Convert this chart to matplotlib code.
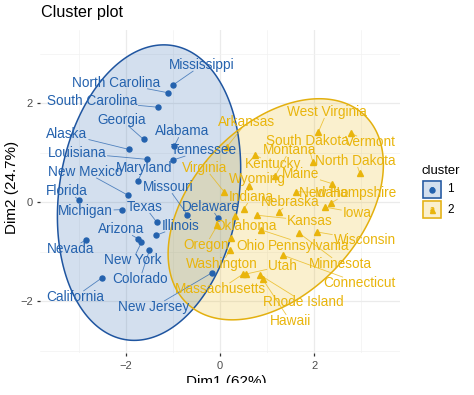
import numpy as np
import matplotlib
matplotlib.use("Agg")
import matplotlib.pyplot as plt
from matplotlib.patches import Rectangle, Polygon

# ---------------- data ----------------
states = ["Alabama", "Alaska", "Arizona", "Arkansas", "California", "Colorado",
          "Connecticut", "Delaware", "Florida", "Georgia", "Hawaii", "Idaho",
          "Illinois", "Indiana", "Iowa", "Kansas", "Kentucky", "Louisiana",
          "Maine", "Maryland", "Massachusetts", "Michigan", "Minnesota",
          "Mississippi", "Missouri", "Montana", "Nebraska", "Nevada",
          "New Hampshire", "New Jersey", "New Mexico", "New York",
          "North Carolina", "North Dakota", "Ohio", "Oklahoma", "Oregon",
          "Pennsylvania", "Rhode Island", "South Carolina", "South Dakota",
          "Tennessee", "Texas", "Utah", "Vermont", "Virginia", "Washington",
          "West Virginia", "Wisconsin", "Wyoming"]
dim1 = [-0.976, -1.931, -1.745, 0.140, -2.499, -1.499, 1.345, -0.047, -2.983,
        -1.623, 0.903, 1.623, -1.365, 0.500, 2.231, 0.789, 0.743, -1.549,
        2.372, -1.746, 0.481, -2.087, 1.676, -0.987, -0.690, 1.174, 1.253,
        -2.846, 2.360, -0.180, -1.960, -1.666, -1.112, 2.962, 0.224, 0.309,
        -0.059, 0.880, 0.855, -1.307, 1.968, -0.989, -1.342, 0.545, 2.773,
        0.095, 0.215, 2.087, 2.059, 0.623]
dim2 = [1.122, 1.062, -0.738, 1.109, -1.527, -0.978, -1.078, -0.322, 0.039,
        1.266, -1.555, 0.209, -0.675, -0.150, -0.103, -0.267, 0.949, 0.862,
        0.373, 0.423, -1.460, -0.154, -0.626, 2.370, -0.261, 0.532, -0.193,
        -0.767, -0.019, -1.435, 0.141, -0.814, 2.209, 0.593, -0.734, -0.285,
        -0.471, -0.566, -1.477, 1.914, 0.815, 0.851, -0.408, -1.456, 1.388,
        0.198, -0.960, 1.414, -0.605, 0.318]
cluster = [1, 1, 1, 2, 1, 1, 2, 1, 1, 1, 2, 2, 1, 2, 2, 2, 2, 1, 2, 1, 2, 1, 2,
           1, 1, 2, 2, 1, 2, 1, 1, 1, 1, 2, 2, 2, 2, 2, 2, 1, 2, 1, 1, 2, 2, 2,
           2, 2, 2, 2]
cluster_names = ["1", "2"]

# label placement (text centres, as repelled in the reference)
label_pos = {
    "Mississippi": (-0.38, 2.77), "North Carolina": (-2.21, 2.41),
    "South Carolina": (-2.72, 2.04), "Georgia": (-2.09, 1.66),
    "Alabama": (-0.81, 1.43), "Alaska": (-3.25, 1.37),
    "Louisiana": (-3.04, 0.99), "Tennessee": (-0.34, 1.05),
    "New Mexico": (-2.86, 0.61), "Maryland": (-1.61, 0.69),
    "Florida": (-3.25, 0.22), "Missouri": (-1.11, 0.30),
    "Michigan": (-2.86, -0.18), "Texas": (-1.59, -0.10),
    "Delaware": (-0.20, -0.10), "Illinois": (-0.83, -0.48),
    "Arizona": (-2.09, -0.55), "Nevada": (-3.18, -0.95),
    "New York": (-1.85, -1.17), "Colorado": (-1.70, -1.56),
    "California": (-3.08, -1.92), "New Jersey": (-1.40, -2.12),
    "West Virginia": (2.27, 1.82), "Arkansas": (0.57, 1.62),
    "South Dakota": (1.85, 1.23), "Vermont": (3.20, 1.21),
    "Montana": (1.48, 1.05), "Kentucky": (1.12, 0.77),
    "North Dakota": (2.88, 0.83), "Virginia": (-0.32, 0.69),
    "Wyoming": (0.79, 0.46), "Maine": (1.72, 0.57),
    "New Hampshire": (2.71, 0.18), "Idaho": (2.38, 0.18),
    "Indiana": (0.67, 0.10), "Nebraska": (1.49, 0.00),
    "Iowa": (2.91, -0.22), "Kansas": (1.91, -0.38),
    "Oklahoma": (0.55, -0.48), "Wisconsin": (3.07, -0.77),
    "Oregon": (-0.30, -0.87), "Ohio": (0.65, -0.88),
    "Pennsylvania": (1.89, -0.88), "Washington": (0.04, -1.25),
    "Utah": (1.33, -1.29), "Minnesota": (2.55, -1.25),
    "Massachusetts": (0.01, -1.76), "Connecticut": (2.96, -1.64),
    "Rhode Island": (1.77, -2.02), "Hawaii": (1.49, -2.40),
}

# ---------------- style ----------------
colors = {1: "#2462AE", 2: "#E9B50C"}
edge_colors = {1: "#1F55A0", 2: "#E3B00F"}
markers = {1: "o", 2: "^"}
FONT = "Liberation Sans"
W, H = 474, 395

plt.rcParams["font.family"] = [FONT, "DejaVu Sans"]

fig = plt.figure(figsize=(W / 100, H / 100), dpi=100)
fig.patch.set_facecolor("white")
ax = fig.add_axes([40 / W, 1 - 353 / H, 360 / W, 323 / H])
ax.set_xlim(-3.82, 3.82)
ax.set_ylim(-3.05, 3.475)
for s in ax.spines.values():
    s.set_visible(False)

ax.set_xticks([-2, 0, 2])
ax.set_yticks([-2, 0, 2])
ax.set_xticks([-3, -1, 1, 3], minor=True)
ax.set_yticks([-3, -1, 1, 3], minor=True)
ax.grid(True, which="major", color="#EBEBEB", lw=0.9)
ax.grid(True, which="minor", color="#F2F2F2", lw=0.5)
ax.set_axisbelow(True)
ax.tick_params(which="major", length=2.5, width=0.9, color="#333333",
               labelsize=8, labelcolor="#4D4D4D")
ax.tick_params(axis="x", which="major", pad=3.5)
ax.tick_params(axis="y", which="major", pad=2.5)
ax.tick_params(which="minor", length=0)

x = np.array(dim1)
y = np.array(dim2)
cl = np.array(cluster)


def norm_ellipse(xs, ys, level=0.95, seg=240):
    data = np.column_stack([xs, ys])
    n = len(xs)
    center = data.mean(axis=0)
    cov = np.cov(data.T)
    R = np.linalg.cholesky(cov).T
    d = n - 1
    fq = (d / 2.0) * ((1 - level) ** (-2.0 / d) - 1)
    radius = np.sqrt(2 * fq)
    t = np.linspace(0, 2 * np.pi, seg)
    circ = np.column_stack([np.cos(t), np.sin(t)])
    return center + radius * (circ @ R)


for k in (1, 2):
    m = cl == k
    e = norm_ellipse(x[m], y[m])
    ax.add_patch(Polygon(e, closed=True, facecolor=colors[k], alpha=0.2,
                         edgecolor="none", zorder=1))
    ax.add_patch(Polygon(e, closed=True, facecolor="none",
                         edgecolor=edge_colors[k], lw=1.1, zorder=1.5))

for k in (1, 2):
    m = cl == k
    ax.plot(x[m], y[m], ls="none", marker=markers[k], color=colors[k],
            ms=3.6 if k == 1 else 4.2, zorder=3)

texts = []
for name, px, py, k in zip(states, x, y, cl):
    lx, ly = label_pos[name]
    t = ax.text(lx, ly, name, ha="center", va="center", fontsize=9.8,
                color=colors[k], zorder=4, family=FONT)
    texts.append((t, px, py, k))

fig.canvas.draw()
renderer = fig.canvas.get_renderer()
inv = ax.transData.inverted()
for t, px, py, k in texts:
    bb = t.get_window_extent(renderer)
    x0, x1, y0, y1 = bb.x0 - 1, bb.x1 + 1, bb.y0 + 1, bb.y1 - 1
    P = ax.transData.transform((px, py))
    C = np.array([(x0 + x1) / 2, (y0 + y1) / 2])
    if x0 <= P[0] <= x1 and y0 <= P[1] <= y1:
        continue
    dvec = P - C
    hw, hh = (x1 - x0) / 2, (y1 - y0) / 2
    tt = min(hw / abs(dvec[0]) if dvec[0] != 0 else np.inf,
             hh / abs(dvec[1]) if dvec[1] != 0 else np.inf)
    E = C + tt * dvec
    if np.hypot(*(P - E)) < 5:
        continue
    a = inv.transform(E)
    ax.plot([a[0], px], [a[1], py], color=colors[k], lw=0.6, alpha=0.75,
            zorder=2, solid_capstyle="butt")

# titles
fig.text(41 / W, 1 - 13 / H, "Cluster plot", fontsize=11.6, ha="left",
         va="center", color="black")
fig.text(12 / W, 1 - 187 / H, "Dim2 (24.7%)", fontsize=11, rotation=90,
         ha="center", va="center", color="black")
fig.text(226 / W, 1 - 375 / H, "Dim1 (62%)", fontsize=11, ha="center",
         va="top", color="black")

# legend
fig.text(422 / W, 1 - 171 / H, "cluster", fontsize=9.4, ha="left",
         va="center")
for i, k in enumerate((1, 2)):
    top = 180 + i * 20
    fig.patches.append(Rectangle((422 / W, 1 - (top + 19) / H), 20 / W,
                                 19 / H, transform=fig.transFigure,
                                 facecolor=colors[k], alpha=0.2,
                                 edgecolor="none"))
    fig.patches.append(Rectangle((423 / W, 1 - (top + 18) / H), 18 / W,
                                 17 / H, transform=fig.transFigure,
                                 facecolor="none", edgecolor=edge_colors[k],
                                 lw=1.1))
    cx, cy = 432 / W, 1 - (top + 9.5) / H
    fig.lines.append(plt.Line2D([cx], [cy], transform=fig.transFigure,
                                marker=markers[k], color=colors[k], ms=3.6,
                                ls="none"))
    fig.text(cx, cy, "a", fontsize=6.5, ha="center", va="center",
             color=colors[k], fontweight="bold")
    fig.text(447 / W, cy, cluster_names[i], fontsize=8.5, ha="left",
             va="center")

# bottom crop as in the reference
fig.patches.append(Rectangle((0, 0), 1, 12 / H, transform=fig.transFigure,
                             facecolor="white", edgecolor="none", zorder=10))

fig.savefig("out.png", dpi=100, facecolor="white")
